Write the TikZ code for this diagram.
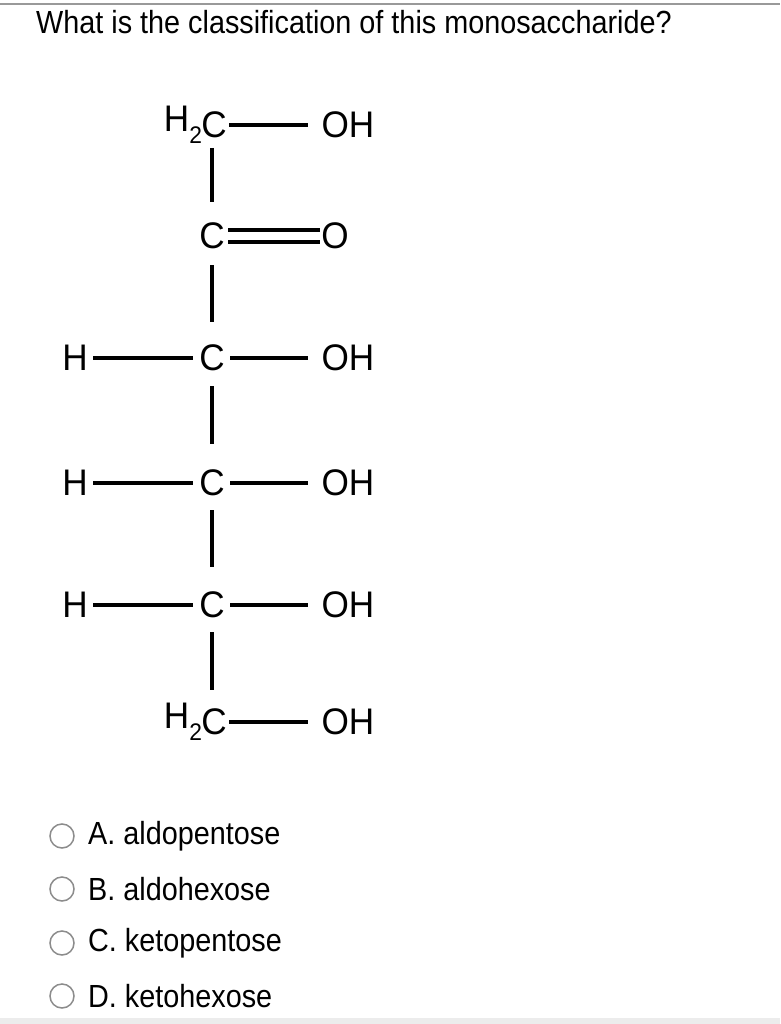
\documentclass[tikz,border=0pt]{standalone}
\usepackage{fontspec}
\setmainfont{Liberation Sans}
\begin{document}
\begin{tikzpicture}[x=1pt,y=-1pt,
  chem/.style={inner sep=0pt,font=\fontsize{37}{40}\selectfont,xscale=0.95},
  opt/.style={inner sep=0pt,anchor=west,font=\fontsize{32}{34}\selectfont,xscale=0.9},
  bond/.style={line width=3.5pt},
  radio/.style={draw=gray!90,line width=1.5pt}]
\useasboundingbox (0,0) rectangle (780,1024);
\fill[white] (0,0) rectangle (780,1024);
\draw[gray!80,line width=2pt] (0,4) -- (780,4);
\fill[gray!15] (0,1018) rectangle (780,1024);
\node[anchor=west,inner sep=0pt,font=\fontsize{32}{34}\selectfont,xscale=0.9] (title) at (36,22) {What is the classification of this monosaccharide?};
% row 1
\node[chem] (c1) at (214,125) {C};
\node[chem,anchor=east] (h2a) at ([xshift=1pt]c1.west) {H\raisebox{-0.6ex}{\fontsize{24}{24}\selectfont 2}};
\node[chem] (o1) at (348,125) {OH};
\draw[bond] (229,125) -- (308,125);
% row 2
\node[chem] (c2) at (212,236) {C};
\node[chem] (o2) at (335,236) {O};
\draw[bond] (228,230) -- (320,230);
\draw[bond] (228,242) -- (320,242);
% rows 3-5
\foreach \i/\y in {3/358,4/483,5/605}{
  \node[chem] (c\i) at (212,\y) {C};
  \node[chem] (h\i) at (75,\y) {H};
  \node[chem] (o\i) at (348,\y) {OH};
  \draw[bond] (93,\y) -- (193,\y);
  \draw[bond] (230,\y) -- (308,\y);
}
% row 6
\node[chem] (c6) at (214,722) {C};
\node[chem,anchor=east] (h6) at ([xshift=1pt]c6.west) {H\raisebox{-0.6ex}{\fontsize{24}{24}\selectfont 2}};
\node[chem] (o6) at (348,722) {OH};
\draw[bond] (229,722) -- (308,722);
% verticals
\draw[bond] (212,148) -- (212,202);
\draw[bond] (212,265) -- (212,322);
\draw[bond] (212,386) -- (212,444);
\draw[bond] (212,510) -- (212,567);
\draw[bond] (212,632) -- (212,690);
% options
\foreach \t/\y/\n in {A. aldopentose/836/a,B. aldohexose/889/b,C. ketopentose/943/c,D. ketohexose/996/d}{
  \draw[radio] (62,\y) circle (12);
  \node[opt] (opt\n) at (88,\y) {\t};
}
\end{tikzpicture}
\end{document}
